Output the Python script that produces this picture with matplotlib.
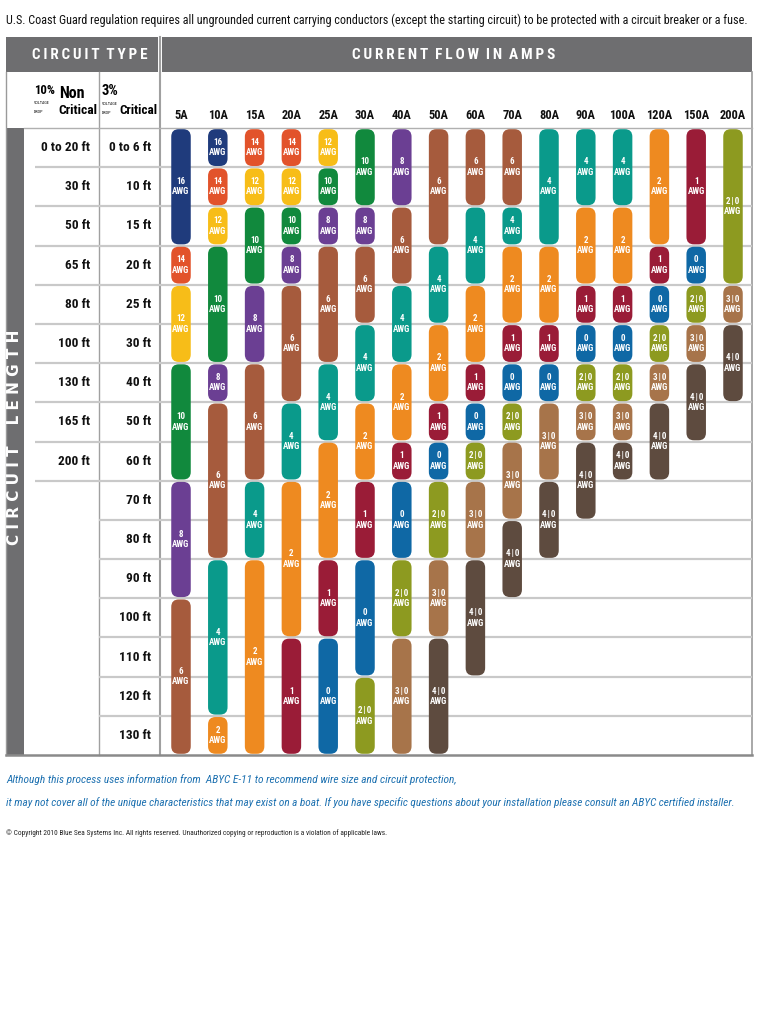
import matplotlib
matplotlib.use("Agg")
import matplotlib.pyplot as plt
from matplotlib.patches import FancyBboxPatch, Rectangle
from matplotlib import font_manager

# ---------------- data ----------------
amps = ["5A", "10A", "15A", "20A", "25A", "30A", "40A", "50A",
        "60A", "70A", "80A", "90A", "100A", "120A", "150A", "200A"]
noncritical_lengths = ["0 to 20 ft", "30 ft", "50 ft", "65 ft", "80 ft",
                       "100 ft", "130 ft", "165 ft", "200 ft"]
critical_lengths = ["0 to 6 ft", "10 ft", "15 ft", "20 ft", "25 ft", "30 ft",
                    "40 ft", "50 ft", "60 ft", "70 ft", "80 ft", "90 ft",
                    "100 ft", "110 ft", "120 ft", "130 ft"]

# wire gauge runs per amperage column: (gauge, number of length rows)
wire_5A = [("16", 3), ("14", 1), ("12", 2), ("10", 3), ("8", 3), ("6", 4)]
wire_10A = [("16", 1), ("14", 1), ("12", 1), ("10", 3), ("8", 1), ("6", 4), ("4", 4), ("2", 1)]
wire_15A = [("14", 1), ("12", 1), ("10", 2), ("8", 2), ("6", 3), ("4", 2), ("2", 5)]
wire_20A = [("14", 1), ("12", 1), ("10", 1), ("8", 1), ("6", 3), ("4", 2), ("2", 4), ("1", 3)]
wire_25A = [("12", 1), ("10", 1), ("8", 1), ("6", 3), ("4", 2), ("2", 3), ("1", 2), ("0", 3)]
wire_30A = [("10", 2), ("8", 1), ("6", 2), ("4", 2), ("2", 2), ("1", 2), ("0", 3), ("2|0", 2)]
wire_40A = [("8", 2), ("6", 2), ("4", 2), ("2", 2), ("1", 1), ("0", 2), ("2|0", 2), ("3|0", 3)]
wire_50A = [("6", 3), ("4", 2), ("2", 2), ("1", 1), ("0", 1), ("2|0", 2), ("3|0", 2), ("4|0", 3)]
wire_60A = [("6", 2), ("4", 2), ("2", 2), ("1", 1), ("0", 1), ("2|0", 1), ("3|0", 2), ("4|0", 3)]
wire_70A = [("6", 2), ("4", 1), ("2", 2), ("1", 1), ("0", 1), ("2|0", 1), ("3|0", 2), ("4|0", 2)]
wire_80A = [("4", 3), ("2", 2), ("1", 1), ("0", 1), ("3|0", 2), ("4|0", 2)]
wire_90A = [("4", 2), ("2", 2), ("1", 1), ("0", 1), ("2|0", 1), ("3|0", 1), ("4|0", 2)]
wire_100A = [("4", 2), ("2", 2), ("1", 1), ("0", 1), ("2|0", 1), ("3|0", 1), ("4|0", 1)]
wire_120A = [("2", 3), ("1", 1), ("0", 1), ("2|0", 1), ("3|0", 1), ("4|0", 2)]
wire_150A = [("1", 3), ("0", 1), ("2|0", 1), ("3|0", 1), ("4|0", 2)]
wire_200A = [("2|0", 4), ("3|0", 1), ("4|0", 2)]
columns = [wire_5A, wire_10A, wire_15A, wire_20A, wire_25A, wire_30A, wire_40A,
           wire_50A, wire_60A, wire_70A, wire_80A, wire_90A, wire_100A,
           wire_120A, wire_150A, wire_200A]

gauge_colors = {
    "16": "#1f3b7c", "14": "#e2532b", "12": "#f7bd18", "10": "#11893d",
    "8": "#6b3f93", "6": "#a65b3d", "4": "#0a9a8b", "2": "#ee8a20",
    "1": "#9a1c37", "0": "#0f68a5", "2|0": "#8d9a20", "3|0": "#a7744a",
    "4|0": "#5e4b3f",
}

# ---------------- fonts: pick the narrowest available ----------------
def pick_font():
    entries = font_manager.fontManager.ttflist
    names = {f.name for f in entries}
    for fam in ["Liberation Sans Narrow", "Roboto Condensed", "Open Sans Condensed",
                "Noto Sans Condensed", "DejaVu Sans Condensed", "Arial Narrow"]:
        if fam in names:
            return {"family": fam}
    for fam in ["Roboto", "DejaVu Sans", "Noto Sans", "Open Sans"]:
        for f in entries:
            if f.name == fam and "condensed" in str(f.stretch) and "extra" not in str(f.stretch) \
                    and "ultra" not in str(f.stretch) and "semi" not in str(f.stretch):
                return {"family": fam, "fontstretch": "condensed"}
    for fam in ["Roboto", "Noto Sans", "DejaVu Sans", "Open Sans"]:
        for f in entries:
            if f.name == fam and "condensed" in str(f.stretch):
                return {"family": fam, "fontstretch": f.stretch}
    return {"family": "Roboto" if "Roboto" in names else "DejaVu Sans"}

COND = pick_font()

GRAY = "#6e6e70"
LINE = "#c9c9c9"
BLUE = "#1c70b0"

W, H = 768, 1024
fig = plt.figure(figsize=(W / 100, H / 100), dpi=100)
renderer = fig.canvas.get_renderer()


def fit(t, width, grow=False, axis="w"):
    """Shrink (optionally grow) a text so it spans `width` pixels."""
    ext = t.get_window_extent(renderer)
    w = ext.width if axis == "w" else ext.height
    if w > width or grow:
        t.set_fontsize(t.get_fontsize() * width / w)
    return t


def spaced(s, sep="\u2009"):
    return sep.join(s)


# background / layout axes in pixel coordinates
bg = fig.add_axes([0, 0, 1, 1])
bg.set_xlim(0, W)
bg.set_ylim(H, 0)
bg.axis("off")

top, bot = 128, 755
gx0, gx1 = 24, 752

# title
fit(bg.text(6, 20, "U.S. Coast Guard regulation requires all ungrounded current carrying conductors "
            "(except the starting circuit) to be protected with a circuit breaker or a fuse.",
            fontsize=11, va="center", ha="left", color="#111111", **COND), 744, grow=True)

# header bars
bg.add_patch(Rectangle((6, 37), 152, 35, color=GRAY, lw=0))
bg.add_patch(Rectangle((162, 37), 590, 35, color=GRAY, lw=0))
fit(bg.text(90, 55, spaced("CIRCUIT") + "\u2002" + spaced("TYPE"), color="white", fontsize=16,
            weight="bold", ha="center", va="center", **COND), 116)
fit(bg.text(454, 55, spaced("CURRENT") + "\u2002" + spaced("FLOW") + "\u2002" + spaced("IN")
            + "\u2002" + spaced("AMPS"), color="white", fontsize=16,
            weight="bold", ha="center", va="center", **COND), 205)

# left gray band
bg.add_patch(Rectangle((6, top), 18, bot - top, color=GRAY, lw=0))
fit(bg.text(15, 437, "C I R C U I T    L E N G T H", color="white", fontsize=11, weight="bold",
            family="DejaVu Sans", rotation=90, ha="center", va="center"), 255, axis="h")

# borders
bg.plot([6, 6], [72, bot], color="#9a9a9a", lw=1)
bg.plot([gx1, gx1], [72, bot], color="#9a9a9a", lw=1.2)
bg.plot([99, 99], [72, bot], color="#a0a0a0", lw=1)
bg.plot([160, 160], [37, bot], color="#a0a0a0", lw=1.5)
bg.plot([6, gx1], [bot, bot], color="#8a8a8a", lw=1.8)
bg.plot([24, gx1], [top, top], color="#b0b0b0", lw=1)

# sub-header
fit(bg.text(34, 91, "10%", fontsize=10.5, weight="bold", va="center", ha="left", **COND), 21)
bg.text(34, 103, "VOLTAGE", fontsize=3.0, va="center", ha="left", **COND)
bg.text(34, 112, "DROP", fontsize=3.0, va="center", ha="left", **COND)
bg.text(59, 93, "Non", fontsize=11.5, weight="bold", va="center", ha="left", **COND)
fit(bg.text(58, 111, "Critical", fontsize=11.5, weight="bold", va="center", ha="left", **COND), 39)
bg.text(102, 91, "3%", fontsize=10.5, weight="bold", va="center", ha="left", **COND)
bg.text(102, 104, "VOLTAGE", fontsize=3.0, va="center", ha="left", **COND)
bg.text(102, 113, "DROP", fontsize=3.0, va="center", ha="left", **COND)
fit(bg.text(157, 111, "Critical", fontsize=11.5, weight="bold", va="center", ha="right", **COND), 38)

# footer
fit(bg.text(6, 780, "Although this process uses information from  ABYC E-11 to recommend wire size and circuit protection,",
            fontsize=9, style="italic", color=BLUE, va="center", ha="left", **COND), 450, grow=True)
fit(bg.text(6, 803, "it may not cover all of the unique characteristics that may exist on a boat. If you have specific "
            "questions about your installation please consult an ABYC certified installer.",
            fontsize=9, style="italic", color=BLUE, va="center", ha="left", **COND), 734, grow=True)
fit(bg.text(6, 833, "\u00a9 Copyright 2010 Blue Sea Systems Inc. All rights reserved. Unauthorized copying or "
            "reproduction is a violation of applicable laws.",
            fontsize=6, color="#222222", va="center", ha="left", **COND), 380, grow=True)

# ---------------- main grid axes ----------------
ax = fig.add_axes([gx0 / W, 1 - bot / H, (gx1 - gx0) / W, (bot - top) / H])
px_per_col = 36.8
c0 = 181
ax.set_xlim((gx0 - c0) / px_per_col, (gx1 - c0) / px_per_col)
nrows = len(critical_lengths)
ax.set_ylim(nrows, 0)
ax.axis("off")


def px2col(px):
    return (px - c0) / px_per_col


# row lines
for r in range(1, nrows):
    start = px2col(35) if r <= len(noncritical_lengths) else px2col(99)
    ax.plot([start, px2col(gx1)], [r, r], color=LINE, lw=1.6, zorder=1, solid_capstyle="butt")

# row labels
lab_size = 9.6
for i, lab in enumerate(noncritical_lengths):
    ax.text(px2col(90), i + 0.5, lab, ha="right", va="center", fontsize=lab_size,
            weight="bold", color="#111111", **COND)
for i, lab in enumerate(critical_lengths):
    ax.text(px2col(151), i + 0.5, lab, ha="right", va="center", fontsize=lab_size,
            weight="bold", color="#111111", **COND)

# amp labels (above grid)
probe = ax.text(0, 0, "200A", fontsize=10, weight="bold", **COND)
amp_size = 10 * min(1.0, 26 / probe.get_window_extent(renderer).width)
probe.remove()
for j, a in enumerate(amps):
    ax.text(j, -0.33, a, ha="center", va="center", fontsize=amp_size, weight="bold",
            color="#111111", clip_on=False, **COND)

# pills
probe = ax.text(0, 0, "AWG", fontsize=8, weight="bold", **COND)
awg_size = 8 * min(1.0, 17.5 / probe.get_window_extent(renderer).width)
probe.remove()

row_px = (bot - top) / nrows
pill_w = 19.5 / px_per_col
r_px = 7.5
rounding = r_px / px_per_col
aspect = px_per_col / row_px
gap = 1.2 / row_px
for j, runs in enumerate(columns):
    start = 0
    for gauge, n in runs:
        y0 = start + gap
        h = n - 2 * gap
        p = FancyBboxPatch((j - pill_w / 2, y0), pill_w, h,
                           boxstyle=f"round,pad=0,rounding_size={rounding}",
                           mutation_aspect=aspect, facecolor=gauge_colors[gauge],
                           edgecolor="none", zorder=3)
        ax.add_patch(p)
        shown = gauge.replace("|", "\u200a|\u200a")
        ax.text(j, start + n / 2, f"{shown}\nAWG", ha="center", va="center",
                fontsize=awg_size, weight="bold", color="white",
                linespacing=1.2, zorder=4, **COND)
        start += n

fig.savefig("out.png", dpi=100)
